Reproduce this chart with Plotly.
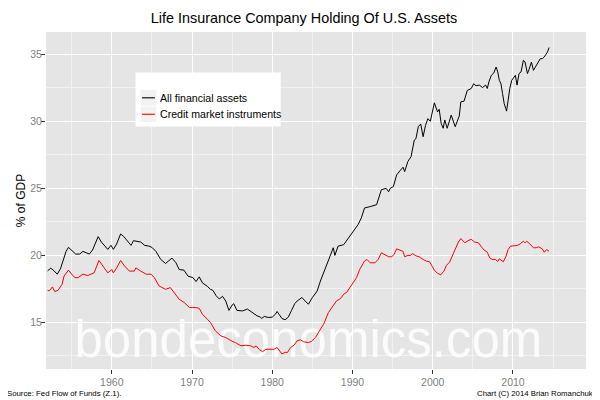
import plotly.graph_objects as go

# ---- data ----
all_fin_year = [1952.0, 1952.4, 1952.8, 1953.2, 1953.6, 1953.9, 1954.3, 1954.6, 1955.0, 1955.5,
                1956.0, 1956.4, 1956.8, 1957.2, 1957.6, 1958.0, 1958.3, 1958.7, 1959.1, 1959.5,
                1959.9, 1960.2, 1960.6, 1961.1, 1961.5, 1961.9, 1962.4, 1962.7, 1963.1, 1963.6,
                1964.1, 1964.6, 1965.0, 1965.5, 1966.1, 1966.7, 1967.1, 1967.5, 1968.0, 1968.4,
                1969.0, 1969.5, 1970.1, 1970.5, 1970.9, 1971.3, 1971.9, 1972.3, 1972.6, 1973.0,
                1973.4, 1973.8, 1974.2, 1974.6, 1975.0, 1975.2, 1975.6, 1976.0, 1976.3, 1976.9,
                1977.5, 1978.1, 1978.5, 1978.7, 1979.0, 1979.5, 1980.0, 1980.4, 1980.6, 1981.2,
                1981.6, 1982.0, 1982.4, 1982.8, 1983.1, 1983.7, 1984.1, 1984.5, 1985.0, 1985.6,
                1986.0, 1986.6, 1987.2, 1987.6, 1987.8, 1988.2, 1988.9, 1989.5, 1990.1, 1990.7,
                1991.1, 1991.5, 1992.2, 1993.0, 1993.6, 1994.2, 1994.5, 1994.7, 1995.1, 1995.3,
                1995.5, 1995.9, 1996.3, 1996.5, 1996.9, 1997.3, 1997.5, 1997.7, 1997.9, 1998.2,
                1998.5, 1998.8, 1999.1, 1999.4, 1999.7, 2000.0, 2000.2, 2000.6, 2000.8, 2001.05,
                2001.3, 2001.5, 2001.8, 2002.3, 2002.8, 2003.3, 2003.5, 2003.9, 2004.3, 2004.8,
                2005.1, 2005.4, 2005.8, 2006.2, 2006.6, 2006.8, 2007.0, 2007.3, 2007.6, 2007.9,
                2008.1, 2008.3, 2008.5, 2008.7, 2008.9, 2009.1, 2009.2, 2009.4, 2009.6, 2009.85,
                2010.1, 2010.3, 2010.5, 2010.75, 2011.0, 2011.3, 2011.5, 2011.8, 2012.0, 2012.3,
                2012.55, 2012.8, 2013.1, 2013.4, 2013.65, 2013.9, 2014.3, 2014.5]
all_fin_pct = [18.85, 19.05, 18.85, 18.6, 19.0, 19.5, 20.3, 20.6, 20.4, 20.1,
               20.1, 20.3, 20.2, 20.1, 20.4, 20.9, 21.4, 21.0, 20.7, 20.45,
               20.75, 20.45, 20.85, 21.6, 21.4, 21.1, 20.75, 21.1, 21.05, 21.0,
               20.75, 20.7, 20.6, 20.3, 19.7, 19.4, 19.6, 19.8, 19.45, 18.95,
               18.9, 18.45, 18.35, 18.05, 18.4, 17.95, 17.7, 17.47, 17.4, 17.0,
               16.75, 16.95, 16.6, 15.9, 16.3, 16.4, 15.9, 15.85, 15.86, 16.0,
               15.74, 15.5, 15.4, 15.3, 15.45, 15.37, 15.4, 15.62, 15.82, 15.3,
               15.2, 15.4, 15.9, 16.4, 16.6, 16.86, 16.6, 16.36, 16.86, 17.35,
               18.09, 18.96, 19.94, 20.57, 20.0, 20.69, 20.8, 21.3, 21.8, 22.3,
               22.8, 23.54, 23.64, 23.78, 24.9, 25.0, 24.75, 25.0, 25.14, 25.5,
               26.0, 26.3, 26.58, 26.25, 27.0, 27.37, 28.1, 28.6, 28.7, 29.6,
               29.8, 28.85, 29.7, 30.2, 30.0, 30.96, 31.38, 30.7, 30.9, 29.85,
               29.48, 30.1, 29.48, 30.46, 29.6, 30.39, 31.45, 31.5, 32.3, 32.45,
               32.8, 32.65, 32.7, 32.52, 32.7, 32.45, 32.94, 33.43, 33.6, 34.05,
               33.68, 33.06, 32.8, 32.07, 31.33, 30.96, 30.76, 31.58, 32.45, 33.06,
               33.3, 33.43, 32.7, 33.56, 33.68, 34.55, 34.43, 33.56, 33.86, 34.42,
               33.8, 34.05, 34.3, 34.67, 34.67, 34.8, 35.17, 35.5]

credit_year = [1952.0, 1952.2, 1952.6, 1952.9, 1953.3, 1953.8, 1954.05, 1954.6, 1955.0, 1955.4,
               1955.8, 1956.4, 1957.0, 1957.4, 1957.8, 1958.4, 1958.9, 1959.5, 1960.0, 1960.2,
               1960.6, 1961.1, 1961.6, 1962.2, 1962.8, 1963.0, 1963.6, 1964.3, 1964.9, 1965.3,
               1965.9, 1966.7, 1967.3, 1968.0, 1968.4, 1969.0, 1969.7, 1970.1, 1970.5, 1970.9,
               1971.3, 1971.9, 1972.3, 1972.9, 1973.6, 1974.2, 1974.8, 1975.0, 1975.4, 1976.1,
               1976.7, 1977.3, 1977.7, 1978.0, 1978.4, 1978.8, 1979.2, 1979.8, 1980.2, 1980.6,
               1980.9, 1981.2, 1981.6, 1981.9, 1982.3, 1982.7, 1983.1, 1983.5, 1983.9, 1984.5,
               1984.9, 1985.4, 1985.8, 1986.4, 1987.0, 1987.6, 1988.0, 1988.5, 1988.9, 1989.3,
               1989.9, 1990.5, 1990.9, 1991.5, 1991.8, 1992.2, 1992.8, 1993.2, 1993.6, 1994.0,
               1994.5, 1994.9, 1995.2, 1995.5, 1995.9, 1996.3, 1996.5, 1996.9, 1997.2, 1997.5,
               1997.9, 1998.3, 1998.8, 1999.2, 1999.6, 1999.9, 2000.2, 2000.6, 2001.0, 2001.4,
               2001.7, 2002.1, 2002.5, 2002.9, 2003.2, 2003.5, 2004.0, 2004.4, 2004.8, 2005.2,
               2005.7, 2006.0, 2006.4, 2006.8, 2007.1, 2007.4, 2007.8, 2008.1, 2008.3, 2008.5,
               2008.8, 2009.1, 2009.4, 2009.7, 2010.1, 2010.5, 2010.9, 2011.3, 2011.5, 2011.7,
               2012.1, 2012.55, 2012.9, 2013.2, 2013.65, 2013.9, 2014.2, 2014.5]
credit_pct = [17.4, 17.35, 17.65, 17.3, 17.4, 17.84, 18.46, 18.9, 18.6, 18.34,
              18.34, 18.6, 18.5, 18.6, 18.7, 19.62, 19.2, 18.7, 18.95, 18.7,
              19.07, 19.62, 19.2, 18.83, 18.83, 19.07, 18.83, 18.6, 18.6, 18.34,
              17.72, 17.47, 17.6, 17.1, 16.73, 16.5, 16.11, 16.11, 16.11, 16.05,
              15.6, 15.25, 15.0, 14.38, 14.0, 13.87, 13.63, 13.6, 13.5, 13.26,
              13.3, 13.26, 13.14, 13.25, 12.97, 12.82, 13.0, 12.97, 13.0, 13.14,
              12.9, 12.65, 12.77, 12.77, 13.14, 13.3, 13.63, 13.71, 13.56, 13.5,
              13.6, 13.89, 14.3, 14.87, 15.74, 16.3, 16.6, 16.78, 17.1, 17.27,
              17.84, 18.34, 18.96, 19.58, 19.7, 19.45, 19.45, 19.7, 20.2, 20.07,
              19.9, 19.9, 20.1, 20.49, 20.4, 20.3, 19.9, 20.0, 20.0, 20.14,
              19.97, 19.9, 19.7, 19.58, 19.53, 19.2, 18.9, 18.66, 18.56, 18.83,
              19.25, 19.5, 20.07, 20.6, 21.0, 21.26, 20.94, 21.1, 21.2, 21.0,
              20.94, 20.69, 20.4, 20.24, 19.82, 19.7, 19.7, 19.55, 19.75, 19.65,
              19.53, 19.9, 20.44, 20.69, 20.74, 20.74, 20.86, 21.06, 20.94, 21.06,
              20.86, 20.57, 20.57, 20.64, 20.49, 20.24, 20.44, 20.3]

series_names = ["All financial assets", "Credit market instruments"]
x_ticks = [1960, 1970, 1980, 1990, 2000, 2010]
y_ticks = [15, 20, 25, 30, 35]

FONT = "Liberation Sans, Arial, sans-serif"
# the page body adds an 8px offset, so the figure is laid out 8px up/left
OFF = 8
W, H = 600 - OFF, 400 - OFF
ML, MR, MT, MB = 43 - OFF, 14, 32 - OFF, 30
PW = W - ML - MR
PH = H - MT - MB


def px_x(p):
    return (p - OFF - ML) / PW


def px_y(p):
    return (H - MB - (p - OFF)) / PH


fig = go.Figure()
fig.add_trace(go.Scatter(x=all_fin_year, y=all_fin_pct, mode="lines", name=series_names[0],
                         line=dict(color="black", width=1), showlegend=False))
fig.add_trace(go.Scatter(x=credit_year, y=credit_pct, mode="lines", name=series_names[1],
                         line=dict(color="#FF0000", width=1), showlegend=False))

shapes = []
# watermark between grid and traces
shapes.append(dict(type="rect", xref="x", yref="y", x0=1958, x1=2011, y0=12.3, y1=15.9,
                   line=dict(width=0), fillcolor="rgba(0,0,0,0)", layer="between",
                   label=dict(text="bondeconomics.com", textposition="middle center",
                              font=dict(family=FONT, size=51, color="rgba(255,255,255,0.85)"))))
# manual legend box (ggplot style)
shapes.append(dict(type="rect", xref="paper", yref="paper", x0=px_x(133), x1=px_x(279),
                   y0=px_y(126.7), y1=px_y(72.7), line=dict(width=0), fillcolor="white",
                   layer="above"))
key_rows = [98, 114.5]
key_colors = ["black", "#FF0000"]
annotations = []
for i, (ry, col) in enumerate(zip(key_rows, key_colors)):
    shapes.append(dict(type="rect", xref="paper", yref="paper", x0=px_x(138), x1=px_x(154),
                       y0=px_y(ry + 7.8), y1=px_y(ry - 7.8), line=dict(width=0),
                       fillcolor="#F2F2F2", layer="above"))
    shapes.append(dict(type="line", xref="paper", yref="paper", x0=px_x(139.5), x1=px_x(152.5),
                       y0=px_y(ry), y1=px_y(ry), line=dict(color=col, width=1.1), layer="above"))
    annotations.append(dict(text=series_names[i], xref="paper", yref="paper", x=px_x(156),
                            y=px_y(ry), xanchor="left", yanchor="middle", showarrow=False,
                            font=dict(family=FONT, size=10.6, color="black")))

annotations.append(dict(text="Source: Fed Flow of Funds (Z.1).", xref="paper", yref="paper",
                        x=px_x(2), y=px_y(394.5), xanchor="left", yanchor="middle",
                        showarrow=False, font=dict(family=FONT, size=7.8, color="black")))
annotations.append(dict(text="Chart (C) 2014 Brian Romanchuk", xref="paper", yref="paper",
                        x=px_x(595), y=px_y(394.5), xanchor="right", yanchor="middle",
                        showarrow=False, font=dict(family=FONT, size=7.8, color="black")))

fig.update_layout(
    width=W, height=H,
    margin=dict(l=ML, r=MR, t=MT, b=MB),
    paper_bgcolor="white", plot_bgcolor="#E5E5E5",
    font=dict(family=FONT, color="black"),
    title=dict(text="Life Insurance Company Holding Of U.S. Assets", x=px_x(314.5),
               xanchor="center", y=1 - (18 - OFF) / H, yanchor="middle", yref="container",
               font=dict(family=FONT, size=14.4, color="black")),
    xaxis=dict(range=[1951.8, 2019.1], tickvals=x_ticks, ticktext=[str(v) for v in x_ticks],
               showgrid=True, gridcolor="white", gridwidth=1.1, zeroline=False, showline=False,
               ticks="outside", ticklen=4, tickcolor="#333333", tickwidth=1,
               ticklabelstandoff=-1,
               tickfont=dict(family=FONT, size=10.5, color="#7F7F7F"),
               minor=dict(tickvals=[1955, 1965, 1975, 1985, 1995, 2005, 2015], showgrid=True,
                          gridcolor="#F2F2F2", gridwidth=0.6)),
    yaxis=dict(range=[11.53, 36.66], tickvals=y_ticks, ticktext=[str(v) for v in y_ticks],
               showgrid=True, gridcolor="white", gridwidth=1.1, zeroline=False, showline=False,
               ticks="outside", ticklen=4, tickcolor="#333333", tickwidth=1,
               ticklabelstandoff=-3,
               tickfont=dict(family=FONT, size=10.5, color="#7F7F7F"),
               title=dict(text="% of GDP", standoff=2, font=dict(family=FONT, size=12, color="black")),
               minor=dict(tickvals=[12.5, 17.5, 22.5, 27.5, 32.5], showgrid=True,
                          gridcolor="#F2F2F2", gridwidth=0.6)),
    shapes=shapes,
    annotations=annotations,
    showlegend=False,
)

fig.write_html("out.html")
